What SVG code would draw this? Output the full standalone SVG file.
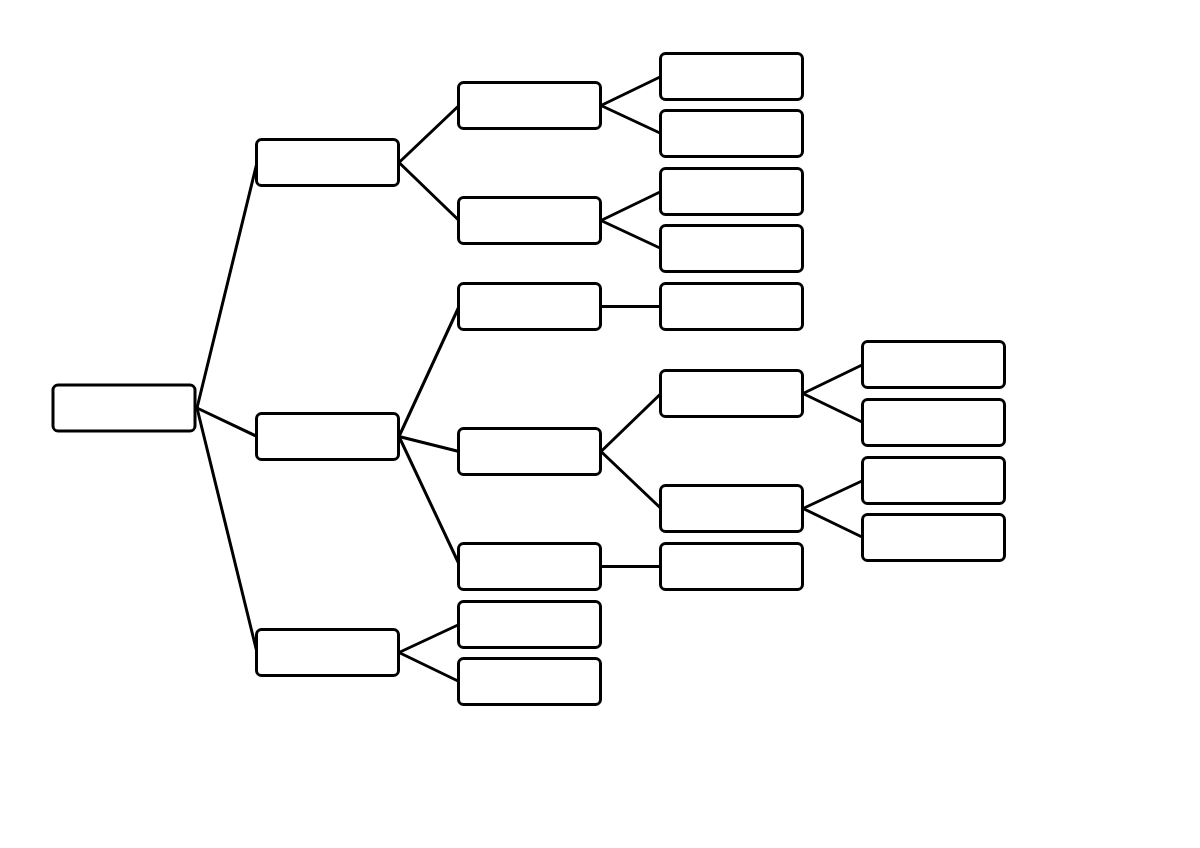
<svg xmlns="http://www.w3.org/2000/svg" width="1200" height="848" viewBox="0 0 1200 848">
<style>
.b{fill:#fff;stroke:#000;stroke-width:3;}
.c line{stroke:#000;stroke-width:3;stroke-linecap:round;}
</style>
<rect width="1200" height="848" fill="#fff"/>
<g class="c" id="connectors">
<line x1="197" y1="408" x2="257" y2="162.5"/>
<line x1="197" y1="408" x2="257" y2="436.5"/>
<line x1="197" y1="408" x2="257" y2="652.5"/>
<line x1="399" y1="162.5" x2="459" y2="105.5"/>
<line x1="399" y1="162.5" x2="459" y2="220.5"/>
<line x1="399" y1="436.5" x2="459" y2="306.5"/>
<line x1="399" y1="436.5" x2="459" y2="451.5"/>
<line x1="399" y1="436.5" x2="459" y2="564"/>
<line x1="399" y1="652.5" x2="459" y2="624.5"/>
<line x1="399" y1="652.5" x2="459" y2="681.5"/>
<line x1="601" y1="105.5" x2="661" y2="76.5"/>
<line x1="601" y1="105.5" x2="661" y2="133.5"/>
<line x1="601" y1="220.5" x2="661" y2="191.5"/>
<line x1="601" y1="220.5" x2="661" y2="248.5"/>
<line x1="601" y1="306.5" x2="661" y2="306.5"/>
<line x1="601" y1="451.5" x2="661" y2="393.5"/>
<line x1="601" y1="451.5" x2="661" y2="508.5"/>
<line x1="601" y1="566.5" x2="661" y2="566.5"/>
<line x1="803" y1="393.5" x2="863" y2="364.5"/>
<line x1="803" y1="393.5" x2="863" y2="422.5"/>
<line x1="803" y1="508.5" x2="863" y2="480.5"/>
<line x1="803" y1="508.5" x2="863" y2="537.5"/>
</g>
<g id="root"><rect class="b" x="53" y="385" width="142" height="46" rx="5"/></g>
<g id="n1a"><rect class="b" x="256.5" y="139.5" width="142" height="46" rx="5"/></g>
<g id="n1b"><rect class="b" x="256.5" y="413.5" width="142" height="46" rx="5"/></g>
<g id="n1c"><rect class="b" x="256.5" y="629.5" width="142" height="46" rx="5"/></g>
<g id="n2a"><rect class="b" x="458.5" y="82.5" width="142" height="46" rx="5"/></g>
<g id="n2b"><rect class="b" x="458.5" y="197.5" width="142" height="46" rx="5"/></g>
<g id="n2c"><rect class="b" x="458.5" y="283.5" width="142" height="46" rx="5"/></g>
<g id="n2d"><rect class="b" x="458.5" y="428.5" width="142" height="46" rx="5"/></g>
<g id="n2e"><rect class="b" x="458.5" y="543.5" width="142" height="46" rx="5"/></g>
<g id="n2f"><rect class="b" x="458.5" y="601.5" width="142" height="46" rx="5"/></g>
<g id="n2g"><rect class="b" x="458.5" y="658.5" width="142" height="46" rx="5"/></g>
<g id="n3a"><rect class="b" x="660.5" y="53.5" width="142" height="46" rx="5"/></g>
<g id="n3b"><rect class="b" x="660.5" y="110.5" width="142" height="46" rx="5"/></g>
<g id="n3c"><rect class="b" x="660.5" y="168.5" width="142" height="46" rx="5"/></g>
<g id="n3d"><rect class="b" x="660.5" y="225.5" width="142" height="46" rx="5"/></g>
<g id="n3e"><rect class="b" x="660.5" y="283.5" width="142" height="46" rx="5"/></g>
<g id="n3f"><rect class="b" x="660.5" y="370.5" width="142" height="46" rx="5"/></g>
<g id="n3g"><rect class="b" x="660.5" y="485.5" width="142" height="46" rx="5"/></g>
<g id="n3h"><rect class="b" x="660.5" y="543.5" width="142" height="46" rx="5"/></g>
<g id="n4a"><rect class="b" x="862.5" y="341.5" width="142" height="46" rx="5"/></g>
<g id="n4b"><rect class="b" x="862.5" y="399.5" width="142" height="46" rx="5"/></g>
<g id="n4c"><rect class="b" x="862.5" y="457.5" width="142" height="46" rx="5"/></g>
<g id="n4d"><rect class="b" x="862.5" y="514.5" width="142" height="46" rx="5"/></g>
</svg>
